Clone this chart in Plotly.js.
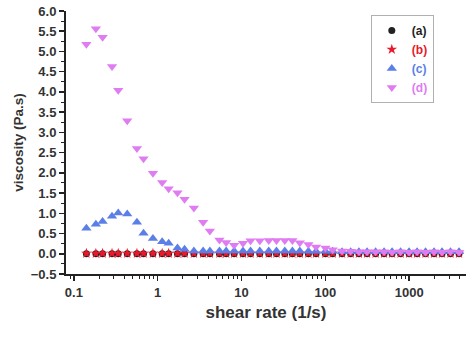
<!DOCTYPE html>
<html>
<head>
<meta charset="utf-8">
<script src="https://cdn.plot.ly/plotly-3.0.1.min.js"></script>
<style>html,body{margin:0;padding:0;background:#fff;}#chart{width:474px;height:351px;}</style>
</head>
<body>
<div id="chart"></div>
<script>
// shear rate (1/s)
const shearRate = [0.141, 0.183, 0.220, 0.285, 0.338, 0.433, 0.565, 0.677, 0.877, 1.13,
  1.35, 1.72, 2.09, 2.70, 3.48, 4.19, 5.45, 6.55, 8.16, 10.4,
  12.8, 16.5, 21.1, 26.1, 32.8, 40.4, 49.5, 62.7, 77.4, 100,
  122, 158, 200, 251, 314, 397, 501, 624, 788, 995,
  1240, 1564, 1976, 2460, 3105, 3924];

const viscA = [0.00, 0.00, 0.00, 0.00, 0.00, 0.00, 0.00, 0.00, 0.00, 0.00,
  0.00, 0.00, 0.00, 0.00, 0.00, 0.00, 0.00, 0.00, 0.00, 0.00,
  0.00, 0.00, 0.00, 0.00, 0.00, 0.00, 0.00, 0.00, 0.00, 0.00,
  0.00, 0.00, 0.00, 0.00, 0.00, 0.00, 0.00, 0.00, 0.00, 0.00,
  0.00, 0.00, 0.00, 0.00, 0.00, 0.00];

const viscB = [0.01, 0.01, 0.01, 0.01, 0.01, 0.01, 0.01, 0.01, 0.01, 0.01,
  0.01, 0.01, 0.01, 0.01, 0.01, 0.01, 0.01, 0.01, 0.01, 0.01,
  0.01, 0.01, 0.01, 0.01, 0.01, 0.01, 0.01, 0.01, 0.01, 0.01,
  0.01, 0.01, 0.01, 0.01, 0.01, 0.01, 0.01, 0.01, 0.01, 0.01,
  0.01, 0.01, 0.01, 0.01, 0.01, 0.01];

const viscC = [0.63, 0.73, 0.80, 0.93, 1.01, 0.98, 0.78, 0.51, 0.38, 0.30,
  0.26, 0.14, 0.11, 0.07, 0.07, 0.07, 0.07, 0.07, 0.07, 0.07,
  0.07, 0.07, 0.07, 0.07, 0.07, 0.07, 0.07, 0.06, 0.06, 0.06,
  0.06, 0.05, 0.05, 0.05, 0.05, 0.05, 0.05, 0.05, 0.05, 0.05,
  0.05, 0.05, 0.05, 0.05, 0.05, 0.05];

const viscD = [5.18, 5.56, 5.35, 4.63, 4.04, 3.29, 2.60, 2.35, 1.99, 1.76,
  1.61, 1.51, 1.35, 1.13, 0.78, 0.56, 0.34, 0.28, 0.21, 0.26,
  0.32, 0.32, 0.33, 0.33, 0.33, 0.33, 0.27, 0.23, 0.17, 0.14,
  0.10, 0.07, 0.06, 0.05, 0.05, 0.05, 0.05, 0.04, 0.05, 0.04,
  0.05, 0.04, 0.05, 0.04, 0.05, 0.04];

const seriesNames = ['(a)', '(b)', '(c)', '(d)'];
const xTickVals = [0.1, 1, 10, 100, 1000];
const xTickText = ['0.1', '1', '10', '100', '1000'];

const colors = ['#222222', '#e8192c', '#5b7fe6', '#e07cf2'];
const symbols = ['circle', 'star', 'triangle-up', 'triangle-down'];
const sizes = [7, 8, 9, 9];
const ys = [viscA, viscB, viscC, viscD];

const traces = ys.map((y, i) => ({
  type: 'scatter', mode: 'markers',
  x: shearRate, y: y,
  name: '<span style="color:' + colors[i] + '"><b>' + seriesNames[i] + '</b></span>',
  marker: {symbol: symbols[i], size: sizes[i], color: colors[i], line: {width: 0}}
}));

const font = {family: '"Liberation Sans", Arial, sans-serif', color: '#222'};

const layout = {
  width: 474, height: 351,
  margin: {l: 66, r: 8, t: 11, b: 77},
  paper_bgcolor: '#fff', plot_bgcolor: '#fff',
  showlegend: true,
  font: font,
  legend: {
    x: 0.762, y: 0.985, xanchor: 'left', yanchor: 'top',
    bordercolor: '#b0b0b0', borderwidth: 1, bgcolor: '#fff',
    font: {family: font.family, size: 12, color: '#222'},
    tracegroupgap: 0
  },
  xaxis: {
    type: 'log', range: [-1.094, 3.677],
    tickmode: 'array', tickvals: xTickVals, ticktext: xTickText,
    showgrid: false, zeroline: false,
    showline: true, linecolor: '#222', linewidth: 2,
    ticks: 'outside', ticklen: 5, tickwidth: 1.5, tickcolor: '#222',
    minor: {ticks: 'outside', ticklen: 3, tickwidth: 1, tickcolor: '#222', dtick: 'D1', showgrid: false},
    tickfont: {family: font.family, size: 13, color: '#333', weight: 700},
    title: {text: 'shear rate (1/s)', font: {family: font.family, size: 17, color: '#333', weight: 700}, standoff: 8}
  },
  yaxis: {
    range: [-0.5, 6.0], dtick: 0.5, tick0: 0, tickformat: '.1f',
    showgrid: false, zeroline: false,
    showline: true, linecolor: '#222', linewidth: 2,
    ticks: 'outside', ticklen: 5, tickwidth: 1.5, tickcolor: '#222',
    minor: {ticks: 'outside', ticklen: 3, tickwidth: 1, tickcolor: '#222', dtick: 0.25, showgrid: false},
    tickfont: {family: font.family, size: 13, color: '#333', weight: 700},
    title: {text: 'viscosity (Pa.s)', font: {family: font.family, size: 13.5, color: '#333', weight: 700}, standoff: 4}
  }
};

Plotly.newPlot('chart', traces, layout, {displayModeBar: false, staticPlot: true});
</script>
</body>
</html>
